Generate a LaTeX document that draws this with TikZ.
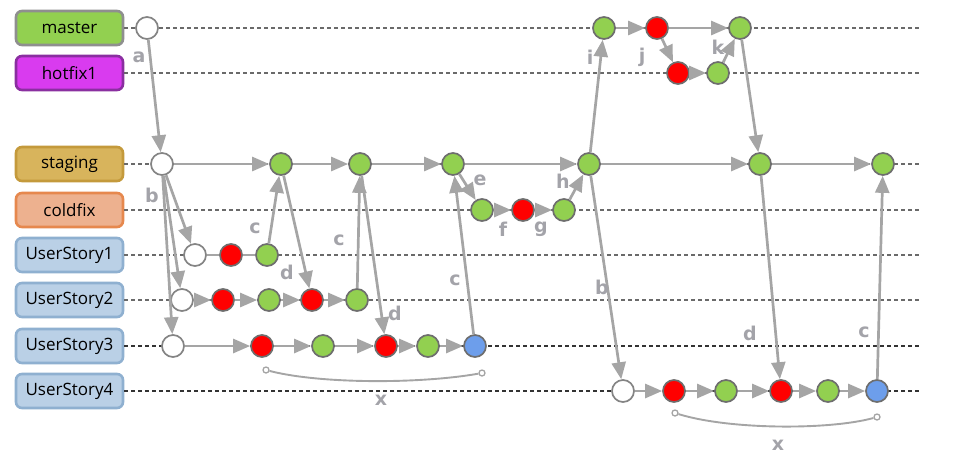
\documentclass[tikz,border=0pt]{standalone}
\usepackage{fontspec}
\setmainfont{DejaVu Sans}
\newfontfamily\boxfont{Open Sans}
\usetikzlibrary{arrows.meta}
\definecolor{grn}{HTML}{92D050}
\definecolor{rd}{HTML}{FF0000}
\definecolor{bl}{HTML}{6D9EEB}
\definecolor{nodeborder}{HTML}{6E6E6E}
\definecolor{arrowgray}{HTML}{A5A5A5}
\definecolor{labelgray}{HTML}{A3A3A9}
\definecolor{mfill}{HTML}{92D050}\definecolor{mdraw}{HTML}{8F8F8F}
\definecolor{hfill}{HTML}{D93BEF}\definecolor{hdraw}{HTML}{8A2FA0}
\definecolor{sfill}{HTML}{D8B45C}\definecolor{sdraw}{HTML}{C49A3C}
\definecolor{cfill}{HTML}{EDB18F}\definecolor{cdraw}{HTML}{E6884E}
\definecolor{ufill}{HTML}{BAD0E6}\definecolor{udraw}{HTML}{8FB0D0}
\definecolor{dashgray}{HTML}{6A6A6A}
\definecolor{dashdark}{HTML}{333333}
\begin{document}
\begin{tikzpicture}[x=1pt,y=-1pt,
  lanebox/.style={rounded corners=6pt, minimum width=107pt, minimum height=34pt, line width=2.6pt, inner sep=0pt, text=black, font=\boxfont\fontsize{17}{19}\selectfont},
  laneline/.style={draw=dashgray, line width=1.1pt, dash pattern=on 4pt off 3pt},
  lanelinedark/.style={draw=dashdark, line width=1.1pt, dash pattern=on 4pt off 3pt},
  cmt/.style={circle, minimum size=22pt, inner sep=0pt, line width=1.7pt, draw=nodeborder},
  gc/.style={cmt, fill=grn},
  rc/.style={cmt, fill=rd},
  bc/.style={cmt, fill=bl},
  wc/.style={cmt, fill=white, draw=nodeborder!85},
  flow/.style={draw=arrowgray, line width=2.7pt, -{Triangle[length=17pt,width=14pt]}},
  plain/.style={draw=arrowgray, line width=2.7pt},
  lbl/.style={text=labelgray, font=\fontsize{19}{20}\selectfont\bfseries, inner sep=0pt},
  endpt/.style={circle, minimum size=6pt, inner sep=0pt, line width=1.3pt, draw=arrowgray, fill=white},
  brace/.style={draw=arrowgray, line width=1.9pt}
]
\useasboundingbox (0,0) rectangle (961,459);

% lane labels
\node[lanebox, fill=mfill, draw=mdraw] (Lmaster) at (69.5,28) {master};
\node[lanebox, fill=hfill, draw=hdraw] (Lhotfix) at (69.5,73) {hotfix1};
\node[lanebox, fill=sfill, draw=sdraw] (Lstaging) at (69.5,164) {staging};
\node[lanebox, fill=cfill, draw=cdraw] (Lcoldfix) at (69.5,210) {coldfix};
\node[lanebox, fill=ufill, draw=udraw] (Lus1) at (69.5,255) {UserStory1};
\node[lanebox, fill=ufill, draw=udraw] (Lus2) at (69.5,300) {UserStory2};
\node[lanebox, fill=ufill, draw=udraw] (Lus3) at (69.5,346) {UserStory3};
\node[lanebox, fill=ufill, draw=udraw] (Lus4) at (69.5,391) {UserStory4};

% lane ends
\coordinate (Emaster) at (920,28);
\coordinate (Ehotfix) at (920,73);
\coordinate (Estaging) at (920,164);
\coordinate (Ecoldfix) at (920,210);
\coordinate (Eus1) at (920,255);
\coordinate (Eus2) at (920,300);
\coordinate (Eus3) at (920,346);
\coordinate (Eus4) at (920,391);
\draw[laneline] (Lmaster.east) -- (Emaster);
\draw[laneline] (Lhotfix.east) -- (Ehotfix);
\draw[laneline] (Lstaging.east) -- (Estaging);
\draw[laneline] (Lcoldfix.east) -- (Ecoldfix);
\draw[laneline] (Lus1.east) -- (Eus1);
\draw[laneline] (Lus2.east) -- (Eus2);
\draw[lanelinedark] (Lus3.east) -- (Eus3);
\draw[lanelinedark] (Lus4.east) -- (Eus4);

% commits: master
\node[wc] (m0) at (147,28) {};
\node[gc] (m1) at (604,28) {};
\node[rc] (m2) at (657,28) {};
\node[gc] (m3) at (740,28) {};
% hotfix1
\node[rc] (h1) at (678,73) {};
\node[gc] (h2) at (718,73) {};
% staging
\node[wc] (s0) at (162,164) {};
\node[gc] (s1) at (281,164) {};
\node[gc] (s2) at (360,164) {};
\node[gc] (s3) at (453,164) {};
\node[gc] (s4) at (589,164) {};
\node[gc] (s5) at (760,164) {};
\node[gc] (s6) at (883,164) {};
% coldfix
\node[gc] (c1) at (482,210) {};
\node[rc] (c2) at (523,210) {};
\node[gc] (c3) at (564,210) {};
% US1
\node[wc] (u1a) at (195,255) {};
\node[rc] (u1b) at (231,255) {};
\node[gc] (u1c) at (267,255) {};
% US2
\node[wc] (u2a) at (182,300) {};
\node[rc] (u2b) at (223,300) {};
\node[gc] (u2c) at (269,300) {};
\node[rc] (u2d) at (312,300) {};
\node[gc] (u2e) at (357,300) {};
% US3
\node[wc] (u3a) at (173,346) {};
\node[rc] (u3b) at (262,346) {};
\node[gc] (u3c) at (323,346) {};
\node[rc] (u3d) at (386,346) {};
\node[gc] (u3e) at (428,346) {};
\node[bc] (u3f) at (475,346) {};
% US4
\node[wc] (u4a) at (623,391) {};
\node[rc] (u4b) at (674,391) {};
\node[gc] (u4c) at (726,391) {};
\node[rc] (u4d) at (781,391) {};
\node[gc] (u4e) at (828,391) {};
\node[bc] (u4f) at (877,391) {};

% connectors
\draw[flow] (m0) -- (s0);
\draw[flow] (s0) -- (s1);
\draw[flow] (s1) -- (s2);
\draw[flow] (s2) -- (s3);
\draw[flow] (s3) -- (s4);
\draw[flow] (s4) -- (s5);
\draw[flow] (s5) -- (s6);
\draw[flow] (s0) -- (u1a);
\draw[flow] (s0) -- (u2a);
\draw[flow] (s0) -- (u3a);
\draw[plain] (u1a) -- (u1b);
\draw[plain] (u1b) -- (u1c);
\draw[flow] (u1c) -- (s1);
\draw[flow] (s1) -- (u2d);
\draw[flow] (u2a) -- (u2b);
\draw[flow] (u2b) -- (u2c);
\draw[flow] (u2c) -- (u2d);
\draw[flow] (u2d) -- (u2e);
\draw[flow] (u2e) -- (s2);
\draw[flow] (s2) -- (u3d);
\draw[flow] (u3a) -- (u3b);
\draw[flow] (u3b) -- (u3c);
\draw[flow] (u3c) -- (u3d);
\draw[flow] (u3d) -- (u3e);
\draw[flow] (u3e) -- (u3f);
\draw[flow] (u3f) -- (s3);
\draw[flow] (s3) -- (c1);
\draw[flow] (c1) -- (c2);
\draw[flow] (c2) -- (c3);
\draw[flow] (c3) -- (s4);
\draw[flow] (s4) -- (m1);
\draw[flow] (m1) -- (m2);
\draw[flow] (m2) -- (m3);
\draw[flow] (m2) -- (h1);
\draw[flow] (h1) -- (h2);
\draw[flow] (h2) -- (m3);
\draw[flow] (m3) -- (s5);
\draw[flow] (s4) -- (u4a);
\draw[flow] (u4a) -- (u4b);
\draw[flow] (u4b) -- (u4c);
\draw[flow] (u4c) -- (u4d);
\draw[flow] (u4d) -- (u4e);
\draw[flow] (u4e) -- (u4f);
\draw[flow] (s5) -- (u4d);
\draw[flow] (u4f) -- (s6);

% x spans
\node[endpt] (x1a) at (266,370) {};
\node[endpt] (x1b) at (482,373) {};
\draw[brace] (x1a) .. controls (320,384) and (420,384) .. (x1b);
\node[endpt] (x2a) at (675,413) {};
\node[endpt] (x2b) at (877,417) {};
\draw[brace] (x2a) .. controls (730,430) and (830,430) .. (x2b);

% labels
\node[lbl] (la) at (139,57) {a};
\node[lbl] (lb1) at (152,195) {b};
\node[lbl] (lc1) at (255,228) {c};
\node[lbl] (ld1) at (287,272) {d};
\node[lbl] (lc2) at (339,240) {c};
\node[lbl] (ld2) at (395,313) {d};
\node[lbl] (lc3) at (455,280) {c};
\node[lbl] (le) at (480,180) {e};
\node[lbl] (lf) at (503,229) {f};
\node[lbl] (lg) at (541,229) {g};
\node[lbl] (lh) at (563,181) {h};
\node[lbl] (lb2) at (602,287) {b};
\node[lbl] (li) at (590,57) {i};
\node[lbl] (lj) at (642,57) {j};
\node[lbl] (lk) at (718,47) {k};
\node[lbl] (ld3) at (750,333) {d};
\node[lbl] (lc4) at (864,332) {c};
\node[lbl] (lx1) at (381,400) {x};
\node[lbl] (lx2) at (778,445) {x};
\end{tikzpicture}
\end{document}
